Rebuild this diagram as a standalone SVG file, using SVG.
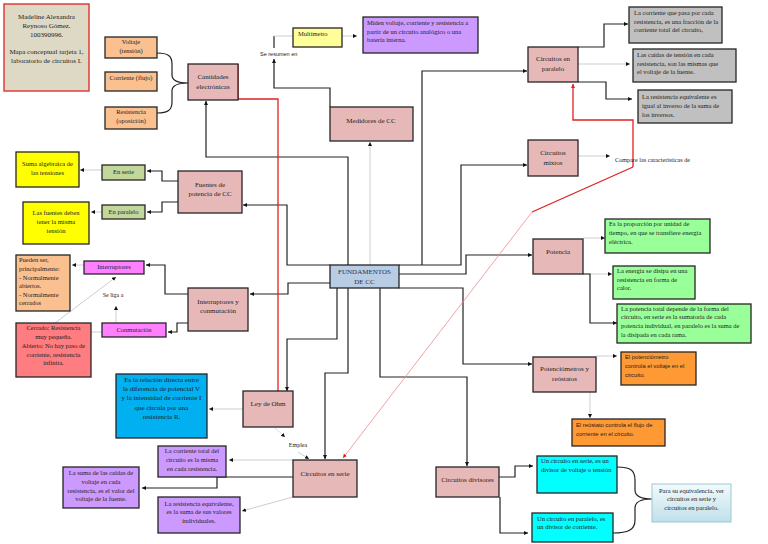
<svg xmlns="http://www.w3.org/2000/svg" width="768" height="544" viewBox="0 0 768 544">
<defs>
<marker id="ah" viewBox="0 0 6 6" refX="6" refY="3" markerWidth="4" markerHeight="4" markerUnits="userSpaceOnUse" orient="auto"><path d="M0,0 L6,3 L0,6 z" fill="#111"/></marker>
<marker id="ahr" viewBox="0 0 6 6" refX="6" refY="3" markerWidth="4" markerHeight="4" markerUnits="userSpaceOnUse" orient="auto"><path d="M0,0 L6,3 L0,6 z" fill="#e02020"/></marker>
<linearGradient id="lb" x1="0" y1="0" x2="0" y2="1"><stop offset="0" stop-color="#f3fafc"/><stop offset="1" stop-color="#bfe0ea"/></linearGradient>
</defs>
<style>
text{font-family:"Liberation Serif","Times New Roman",serif;fill:#222;font-size:6.5px}
.m{font-size:7px}
.c{text-anchor:middle}
.sa{font-family:"Liberation Sans",Arial,sans-serif;font-size:5.8px}
rect{stroke:#262626;stroke-width:1.3}
.bg{stroke:none;fill:#fff}
.k{fill:none;stroke:#222;stroke-width:1.2}
.g{fill:none;stroke:#cdcdcd;stroke-width:1}
.r{fill:none;stroke:#e02020;stroke-width:1.3}
.rl{fill:none;stroke:#f08a8a;stroke-width:0.8}
.pk{fill:#e6b9b8}
.or{fill:#fac090}
.pu{fill:#cc99ff}
.gr{fill:#c0c0c0}
.gn{fill:#99ff99}
.og{fill:#ff9933}
.cy{fill:#00ffff}
.ye{fill:#ffff00}
.ol{fill:#c4d79b}
.vi{fill:#ff80ff}
</style>
<rect class="bg" width="768" height="544"/>

<g id="connectors">
<path class="k" d="M348,265 V157 H206 V101" marker-end="url(#ah)"/>
<path class="k" d="M330,265 H287 V205 H243" marker-end="url(#ah)"/>
<path class="k" d="M330,283 H288 V294 H250" marker-end="url(#ah)"/>
<path class="k" d="M337,288 V339 H287 V391" marker-end="url(#ah)"/>
<path class="k" d="M348,288 V373 H325 V459" marker-end="url(#ah)"/>
<path class="k" d="M380,288 V377 H467 V466" marker-end="url(#ah)"/>
<path class="k" d="M399,288 H463 V364 H532" marker-end="url(#ah)"/>
<path class="k" d="M399,274 H466 V255 H532" marker-end="url(#ah)"/>
<path class="k" d="M399,265 H461 V165 H527" marker-end="url(#ah)"/>
<path class="k" d="M422,265 V71 H527" marker-end="url(#ah)"/>
<path class="g" d="M370,265 V142" marker-end="url(#ah)"/>
<path class="k" d="M330,107 V88 H274 V59" marker-end="url(#ah)"/>
<path class="k" d="M274,48 V36"/>
<path class="g" d="M274,36 H293"/>
<path class="g" d="M342,36 H357" marker-end="url(#ah)"/>
<path class="k" d="M578,47 H604 V24 H628" marker-end="url(#ah)"/>
<path class="g" d="M578,64 H630" marker-end="url(#ah)"/>
<path class="k" d="M578,82 H606 V99 H632" marker-end="url(#ah)"/>
<path class="g" d="M578,156 H610" marker-end="url(#ah)"/>
<path class="r" d="M633,167 V120 H573 V84" marker-end="url(#ahr)"/>
<path class="r" d="M633,167 L532,212"/>
<path class="rl" d="M532,212 L343,458" marker-end="url(#ahr)"/>
<path class="g" d="M583,238 H605" marker-end="url(#ah)"/>
<path class="g" d="M583,274 H612" marker-end="url(#ah)"/>
<path class="k" d="M583,274 H590 V323 H617" marker-end="url(#ah)"/>
<path class="g" d="M596,356 H617" marker-end="url(#ah)"/>
<path class="g" d="M590,392 V418" marker-end="url(#ah)"/>
<path class="k" d="M499,477 H515 V466 H533" marker-end="url(#ah)"/>
<path class="k" d="M500,497 V533 H528" marker-end="url(#ah)"/>
<path class="k" d="M617,467 C630,467 635,470 635,480 L635,490 C635,496 640,499 652,499 M613,533 C628,533 635,530 635,520 L635,508 C635,502 640,499 652,499"/>
<path class="k" d="M157,53 C168,53 172,56 172,64 L172,75 C172,80 176,83 188,83 M157,113 C168,113 172,110 172,102 L172,91 C172,86 176,83 188,83"/>
<path class="k" d="M178,181 H162 V171 H147" marker-end="url(#ah)"/>
<path class="k" d="M178,202 H162 V212 H147" marker-end="url(#ah)"/>
<path class="g" d="M102,170 H80" marker-end="url(#ah)"/>
<path class="g" d="M102,212 H91" marker-end="url(#ah)"/>
<path class="k" d="M188,294 H165 V265 H146" marker-end="url(#ah)"/>
<path class="k" d="M188,323 H177 V332 H168" marker-end="url(#ah)"/>
<path class="g" d="M84,265 H72" marker-end="url(#ah)"/>
<path class="g" d="M116,323 V306" marker-end="url(#ah)"/>
<path class="g" d="M55,323 L116,277" marker-end="url(#ah)"/>
<path class="g" d="M102,332 H91"/>
<path class="g" d="M243,409 H209" marker-end="url(#ah)"/>
<path class="g" d="M275,428 L285,437" stroke-dasharray="2,1" marker-end="url(#ah)"/>
<path class="g" d="M298,452 L309,459" marker-end="url(#ah)"/>
<path class="g" d="M293,460 H229" marker-end="url(#ah)"/>
<path class="k" d="M293,477 H217 V488 H142" marker-end="url(#ah)"/>
<path class="g" d="M293,497 L242,511" marker-end="url(#ah)"/>
<path class="r" d="M278,392 V99 H238 V64"/>
<text x="260" y="55.5" style="font-family:'Liberation Sans',Arial,sans-serif;font-size:5.5px">Se resumen en</text>
<text x="113" y="296.5" class="c" style="font-size:6px">Se liga a</text>
<text x="298" y="447" class="c" style="font-size:6px">Emplea</text>
<text x="615" y="161.5" style="font-size:6.2px">Compare las características de</text>
</g>

<g id="title">
<rect x="4" y="4" width="85" height="87" fill="#ddd9c4" style="stroke:#e03030;stroke-width:1.4"/>
<text class="m c" x="46.5" y="18.5">Madeline Alexandra</text>
<text class="m c" x="46.5" y="27.5">Reynoso Gómez.</text>
<text class="m c" x="46.5" y="36.5">100390996.</text>
<text class="m c" x="46.5" y="53.5">Mapa conceptual tarjeta 1,</text>
<text class="m c" x="46.5" y="63">laboratorio de circuitos I.</text>
</g>

<g id="voltaje"><rect class="or" x="105" y="37" width="52" height="21"/>
<text class="c" x="131" y="44">Voltaje</text><text class="c" x="131" y="53">(tensión)</text></g>
<g id="corriente"><rect class="or" x="105" y="72" width="52" height="19"/>
<text class="c" x="131" y="79.5">Corriente (flujo)</text></g>
<g id="resistencia"><rect class="or" x="105" y="107" width="52" height="22"/>
<text class="c" x="131" y="114">Resistencia</text><text class="c" x="131" y="123">(oposición)</text></g>

<g id="cantidades"><rect class="pk" x="188" y="64" width="50" height="36"/>
<text class="m c" x="213" y="79">Cantidades</text><text class="m c" x="213" y="89">electrónicas</text></g>

<g id="multimetro"><rect x="293" y="28" width="49" height="19" fill="#ffff99"/>
<text x="298" y="36">Multímetro</text></g>
<g id="miden"><rect class="pu" x="363" y="17" width="115" height="36"/>
<text x="367" y="25">Miden voltaje, corriente y resistencia a</text>
<text x="367" y="34">partir de un circuito analógico o una</text>
<text x="367" y="42">batería interna.</text></g>

<g id="medidores"><rect class="pk" x="330" y="107" width="83" height="34"/>
<text class="m c" x="371" y="122.5">Medidores de CC</text></g>

<g id="paralelo"><rect class="pk" x="528" y="47" width="50" height="35"/>
<text class="m c" x="553" y="61">Circuitos en</text><text class="m c" x="553" y="71">paralelo</text></g>
<g id="g1"><rect class="gr" x="629" y="7" width="93" height="36"/>
<text x="634" y="14.5">La corriente que pasa por cada</text>
<text x="634" y="23.5">resistencia, es una fracción de la</text>
<text x="634" y="32">corriente total del circuito,</text></g>
<g id="g2"><rect class="gr" x="633" y="49" width="103" height="33"/>
<text x="637" y="57">Las caídas de tensión en cada</text>
<text x="637" y="65.5">resistencia, son las mismas que</text>
<text x="637" y="74">el voltaje de la fuente.</text></g>
<g id="g3"><rect class="gr" x="638" y="90" width="94" height="33"/>
<text x="642" y="99">La resistencia equivalente es</text>
<text x="642" y="108">igual al inverso de la suma de</text>
<text x="642" y="116.5">los inversos.</text></g>

<g id="mixtos"><rect class="pk" x="528" y="140" width="50" height="36"/>
<text class="m c" x="553" y="155">Circuitos</text><text class="m c" x="553" y="165">mixtos</text></g>

<g id="fuentes"><rect class="pk" x="178" y="171" width="64" height="42"/>
<text class="m c" x="210" y="186.5">Fuentes de</text><text class="m c" x="210" y="195.5">potencia de CC</text></g>
<g id="enserie"><rect class="ol" x="102" y="165" width="43" height="15"/>
<text class="c" x="123.5" y="173.5">En serie</text></g>
<g id="suma"><rect class="ye" x="16" y="152" width="63" height="35"/>
<text class="c" x="47.5" y="166">Suma algebraica de</text><text class="c" x="47.5" y="175">las tensiones</text></g>
<g id="enparalelo"><rect class="ol" x="102" y="205" width="43" height="14"/>
<text class="c" x="123.5" y="213.5">En paralelo</text></g>
<g id="lasfuentes"><rect class="ye" x="23" y="202" width="66" height="42"/>
<text class="c" x="56" y="215">Las fuentes deben</text><text class="c" x="56" y="224">tener la misma</text><text class="c" x="56" y="233">tensión</text></g>

<g id="interruptores"><rect class="vi" x="84" y="261" width="60" height="13"/>
<text class="c" x="114" y="269">Interruptores</text></g>
<g id="pueden"><rect class="or" x="16" y="255" width="54" height="56"/>
<text x="19" y="262">Pueden ser,</text><text x="19" y="271">principalmente:</text>
<text x="19" y="279.5">- Normalmente</text><text x="19" y="288">abiertos.</text>
<text x="19" y="296.5">- Normalmente</text><text x="19" y="305">cerrados</text></g>
<g id="intconm"><rect class="pk" x="188" y="288" width="60" height="43"/>
<text class="m c" x="218" y="304">Interruptores y</text><text class="m c" x="218" y="313">conmutación</text></g>
<g id="conmutacion"><rect class="vi" x="102" y="323" width="64" height="14"/>
<text class="c" x="134" y="332">Conmutación</text></g>
<g id="cerrado"><rect x="16" y="323" width="75" height="54" fill="#ff7c80"/>
<text class="c" x="53.5" y="329.5">Cerrado: Resistencia</text>
<text class="c" x="53.5" y="339">muy pequeña.</text>
<text class="c" x="53.5" y="348">Abierto: No hay paso de</text>
<text class="c" x="53.5" y="356.5">corriente, resistencia</text>
<text class="c" x="53.5" y="365">infinita.</text></g>

<g id="fundamentos"><rect x="330" y="265" width="69" height="23" fill="#b8cce4"/>
<text class="m c" x="364.5" y="273.5" style="fill:#2a3550">FUNDAMENTOS</text>
<text class="m c" x="364.5" y="283.5" style="fill:#2a3550">DE CC</text></g>

<g id="potencia"><rect class="pk" x="533" y="239" width="50" height="35"/>
<text class="m c" x="558" y="253.5">Potencia</text></g>
<g id="p1"><rect class="gn" x="605" y="219" width="105" height="34"/>
<text x="609" y="225.5">Es la proporción por unidad de</text>
<text x="609" y="234.5">tiempo, en que se transfiere energía</text>
<text x="609" y="243.5">eléctrica.</text></g>
<g id="p2"><rect class="gn" x="613" y="266" width="82" height="33"/>
<text x="617" y="273">La energía se disipa en una</text>
<text x="617" y="281.5">resistencia en forma de</text>
<text x="617" y="290">calor.</text></g>
<g id="p3"><rect class="gn" x="617" y="304" width="134" height="39"/>
<text x="621" y="310.5">La potencia total depende de la forma del</text>
<text x="621" y="319">circuito, en serie es la sumatoria de cada</text>
<text x="621" y="328">potencia individual, en paralelo es la suma de</text>
<text x="621" y="336.5">la disipada en cada rama.</text></g>

<g id="potenciometros"><rect class="pk" x="533" y="357" width="63" height="35"/>
<text class="m c" x="564.5" y="371">Potenciómetros y</text><text class="m c" x="564.5" y="380.5">reóstatos</text></g>
<g id="o1"><rect class="og" x="621" y="352" width="75" height="33"/>
<text class="sa" x="625" y="359">El potenciómetro</text>
<text class="sa" x="625" y="368">controla el voltaje en el</text>
<text class="sa" x="625" y="377">circuito.</text></g>
<g id="o2"><rect class="og" x="572" y="419" width="93" height="27"/>
<text class="sa" x="576" y="426.5">El reóstato controla el flujo de</text>
<text class="sa" x="576" y="435.5">corriente en el circuito.</text></g>

<g id="divisores"><rect class="pk" x="436" y="467" width="63" height="30"/>
<text class="m c" x="467.5" y="481.5">Circuitos divisores</text></g>
<g id="c1"><rect class="cy" x="537" y="456" width="80" height="37"/>
<text x="541" y="463">Un circuito en serie, es un</text>
<text x="541" y="471.5">divisor de voltaje o tensión</text></g>
<g id="c2"><rect class="cy" x="532" y="513" width="81" height="29"/>
<text x="537" y="520.5">Un circuito en paralelo, es</text>
<text x="537" y="529">un divisor de corriente.</text></g>
<g id="equivalencia"><rect x="652" y="484" width="79" height="38" fill="url(#lb)" style="stroke:#9cc8d6;stroke-width:1"/>
<text class="c" x="691.5" y="492.5">Para su equivalencia, ver</text>
<text class="c" x="691.5" y="501">circuitos en serie y</text>
<text class="c" x="691.5" y="509.5">circuitos en paralelo.</text></g>

<g id="leyohm"><rect class="pk" x="243" y="391" width="50" height="36"/>
<text class="m c" x="268" y="406">Ley de Ohm</text></g>
<g id="relacion"><rect x="116" y="374" width="91" height="64" fill="#00b0f0"/>
<text class="m c" x="161.5" y="381.5">Es la relación directa entre</text>
<text class="m c" x="161.5" y="390.5">la diferencia de potencial V</text>
<text class="m c" x="161.5" y="400">y la intensidad de corriente I</text>
<text class="m c" x="161.5" y="410">que circula por una</text>
<text class="m c" x="161.5" y="419">resistencia R.</text></g>

<g id="serie"><rect class="pk" x="293" y="460" width="64" height="37"/>
<text class="m c" x="325" y="475.5">Circuitos en serie</text></g>
<g id="s1"><rect class="pu" x="158" y="446" width="68" height="31"/>
<text class="c" x="192" y="453">La corriente total del</text>
<text class="c" x="192" y="461.5">circuito es la misma</text>
<text class="c" x="192" y="470.5">en cada resistencia.</text></g>
<g id="s2"><rect class="pu" x="63" y="467" width="76" height="41"/>
<text class="c" x="101" y="475">La suma de las caídas de</text>
<text class="c" x="101" y="484">voltaje en cada</text>
<text class="c" x="101" y="492.5">resistencia, es el valor del</text>
<text class="c" x="101" y="500.5">voltaje de la fuente.</text></g>
<g id="s3"><rect class="pu" x="158" y="497" width="82" height="36"/>
<text class="c" x="199" y="505.5">La resistencia equivalente,</text>
<text class="c" x="199" y="514">es la suma de sus valores</text>
<text class="c" x="199" y="523">individuales.</text></g>
</svg>
